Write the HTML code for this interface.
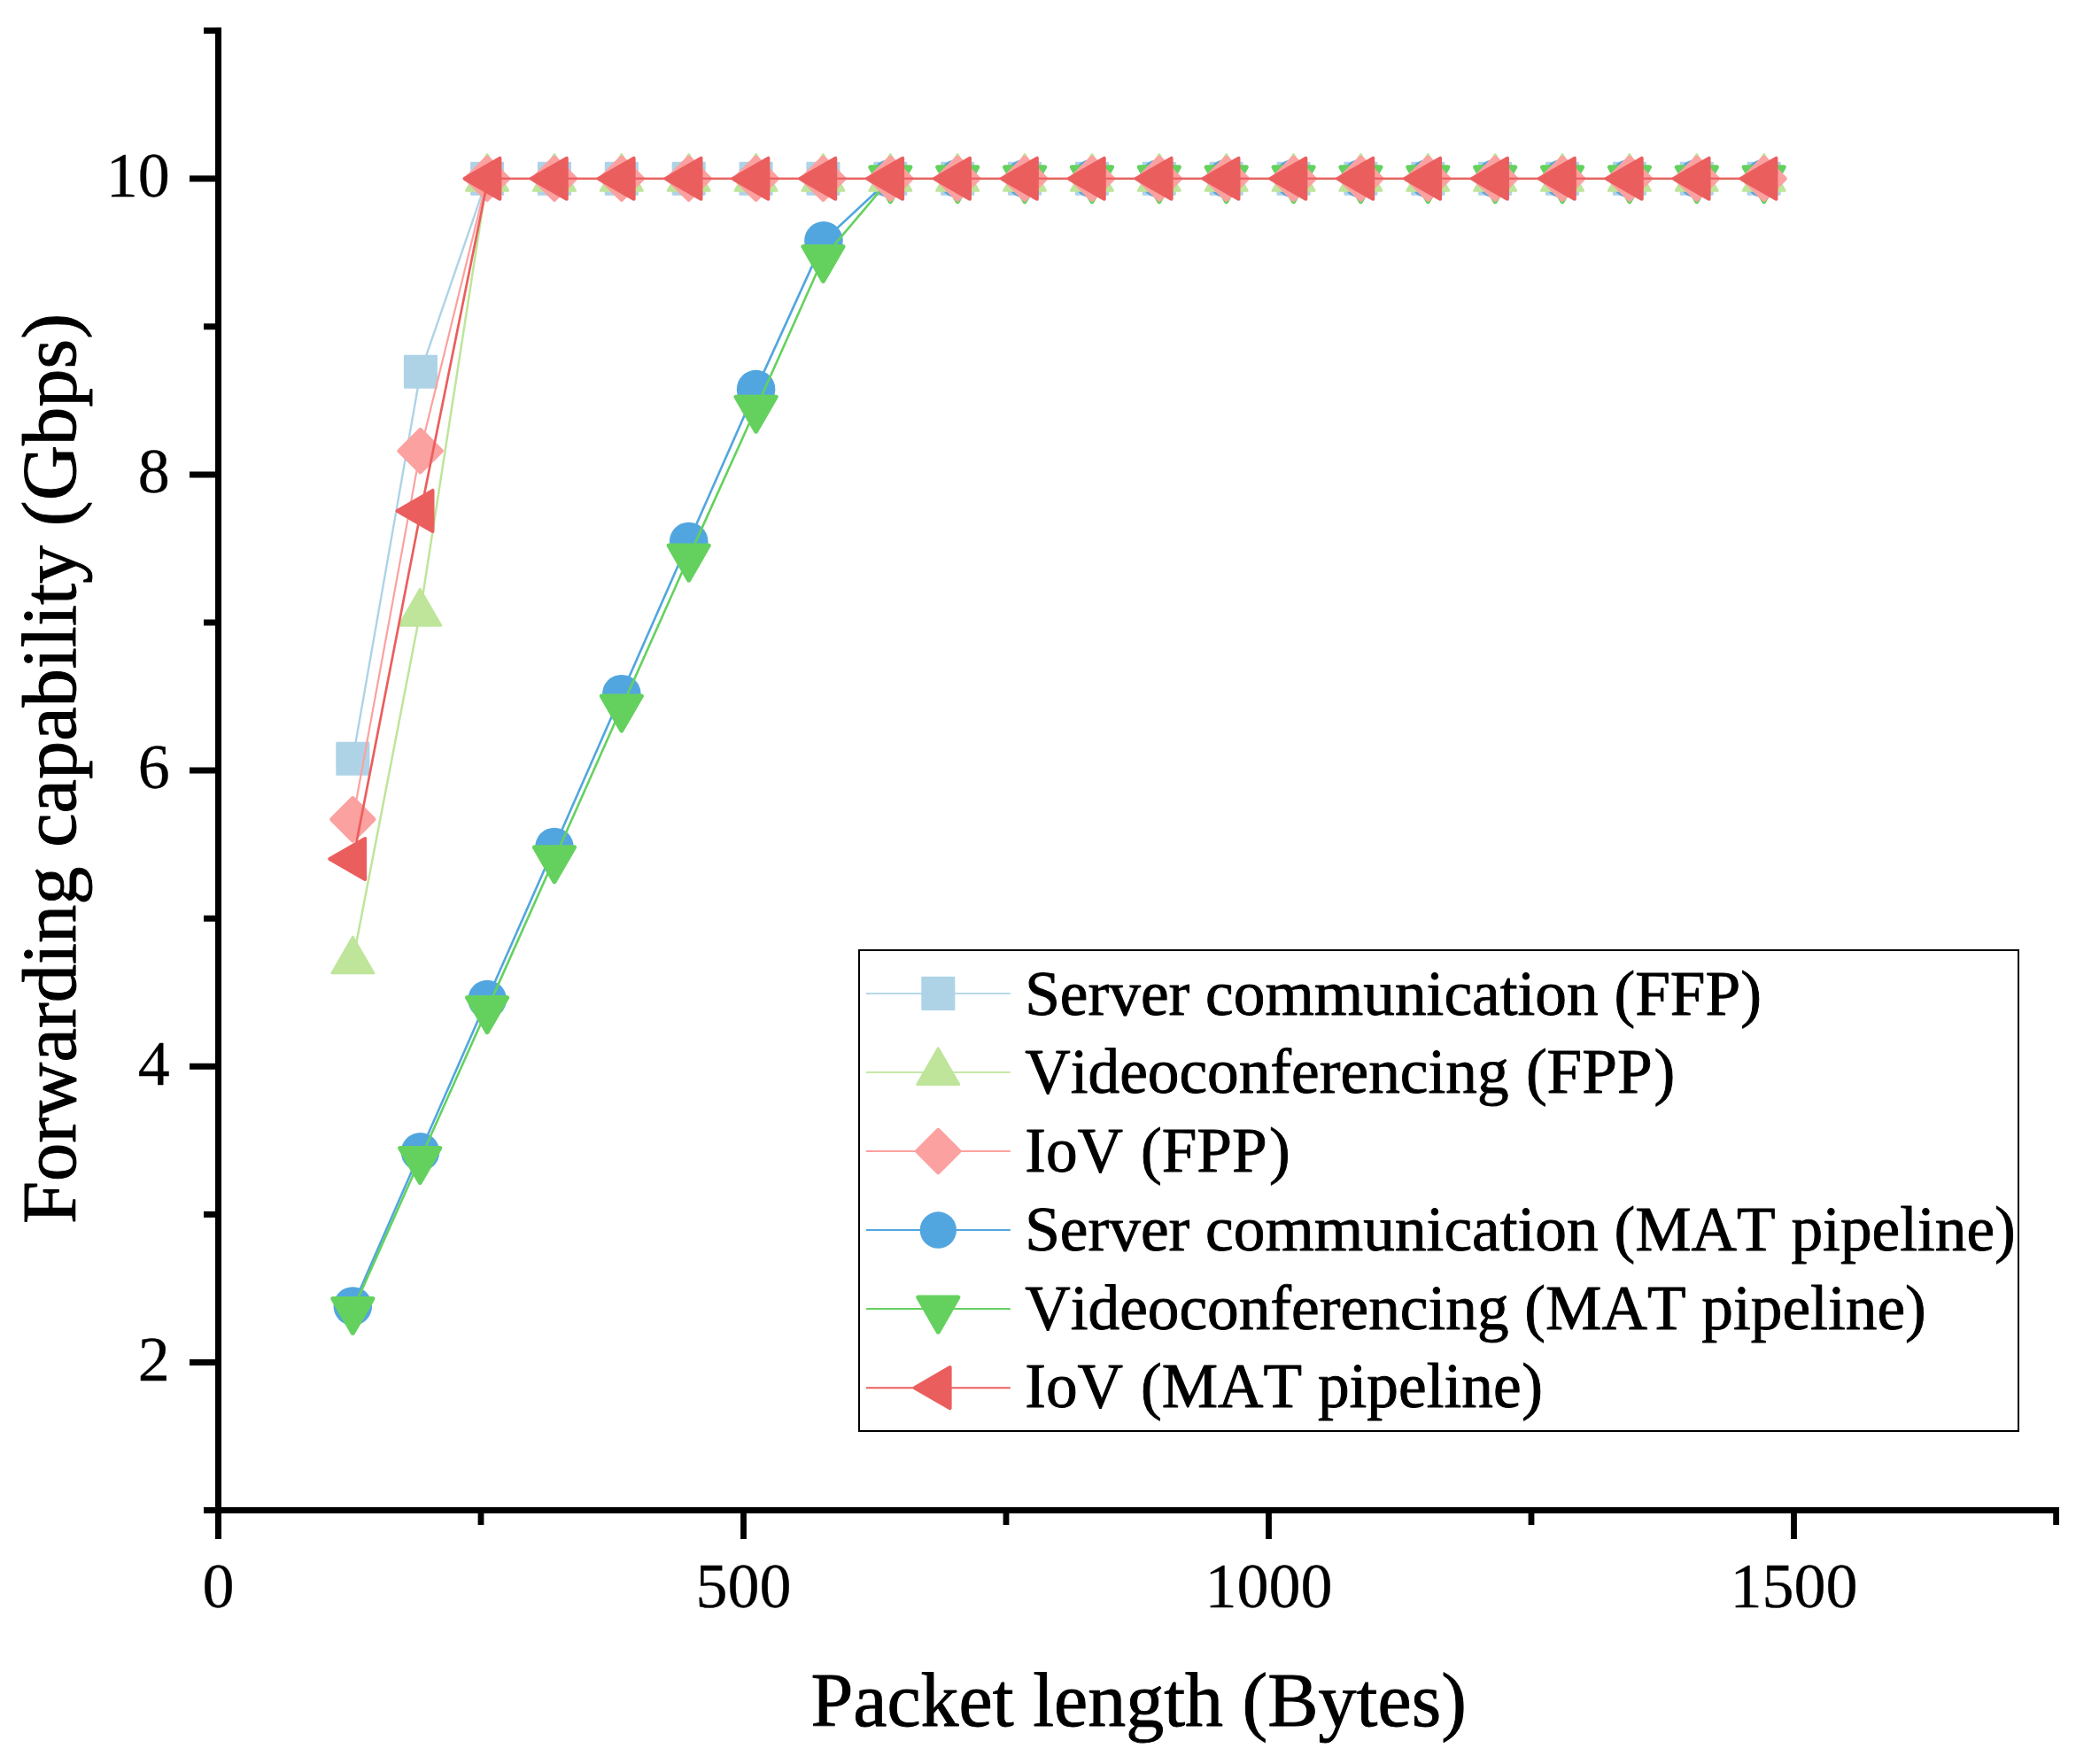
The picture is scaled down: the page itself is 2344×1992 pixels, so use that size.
<!DOCTYPE html>
<html lang="en"><head><meta charset="utf-8"><title>Forwarding capability vs packet length</title>
<style>html,body{margin:0;padding:0;background:#fff}svg{display:block}text{font-family:"Liberation Serif", serif;fill:#000;font-kerning:none;stroke:#000;stroke-width:0.9px;stroke-linejoin:round}.tick text{stroke-width:0.3px}</style></head><body>
<svg width="2344" height="1992" viewBox="0 0 2344 1992">
<rect width="2344" height="1992" fill="#fff"/>
<g><polyline points="398.34,856.73 474.92,419.77 550.09,201.70" fill="none" stroke="#AED3E7" stroke-width="2.4" stroke-linejoin="round"/>
<polyline points="550.09,201.70 625.96,201.70 701.83,201.70 777.70,201.70 853.58,201.70 929.45,201.70 1005.32,201.70 1081.19,201.70 1157.06,201.70 1232.94,201.70 1308.81,201.70 1384.68,201.70 1460.55,201.70 1536.42,201.70 1612.30,201.70 1688.17,201.70 1764.04,201.70 1839.91,201.70 1915.78,201.70 1991.66,201.70" fill="none" stroke="#AED3E7" stroke-width="1.6"/>
<rect x="380.31" y="838.70" width="36.06" height="36.06" fill="#AED3E7" stroke="#AED3E7" stroke-width="2.0" stroke-linejoin="round"/>
<rect x="456.89" y="401.74" width="36.06" height="36.06" fill="#AED3E7" stroke="#AED3E7" stroke-width="2.0" stroke-linejoin="round"/>
<rect x="532.06" y="183.67" width="36.06" height="36.06" fill="#AED3E7" stroke="#AED3E7" stroke-width="2.0" stroke-linejoin="round"/>
<rect x="607.93" y="183.67" width="36.06" height="36.06" fill="#AED3E7" stroke="#AED3E7" stroke-width="2.0" stroke-linejoin="round"/>
<rect x="683.80" y="183.67" width="36.06" height="36.06" fill="#AED3E7" stroke="#AED3E7" stroke-width="2.0" stroke-linejoin="round"/>
<rect x="759.67" y="183.67" width="36.06" height="36.06" fill="#AED3E7" stroke="#AED3E7" stroke-width="2.0" stroke-linejoin="round"/>
<rect x="835.55" y="183.67" width="36.06" height="36.06" fill="#AED3E7" stroke="#AED3E7" stroke-width="2.0" stroke-linejoin="round"/>
<rect x="911.42" y="183.67" width="36.06" height="36.06" fill="#AED3E7" stroke="#AED3E7" stroke-width="2.0" stroke-linejoin="round"/>
<rect x="987.29" y="183.67" width="36.06" height="36.06" fill="#AED3E7" stroke="#AED3E7" stroke-width="2.0" stroke-linejoin="round"/>
<rect x="1063.16" y="183.67" width="36.06" height="36.06" fill="#AED3E7" stroke="#AED3E7" stroke-width="2.0" stroke-linejoin="round"/>
<rect x="1139.03" y="183.67" width="36.06" height="36.06" fill="#AED3E7" stroke="#AED3E7" stroke-width="2.0" stroke-linejoin="round"/>
<rect x="1214.91" y="183.67" width="36.06" height="36.06" fill="#AED3E7" stroke="#AED3E7" stroke-width="2.0" stroke-linejoin="round"/>
<rect x="1290.78" y="183.67" width="36.06" height="36.06" fill="#AED3E7" stroke="#AED3E7" stroke-width="2.0" stroke-linejoin="round"/>
<rect x="1366.65" y="183.67" width="36.06" height="36.06" fill="#AED3E7" stroke="#AED3E7" stroke-width="2.0" stroke-linejoin="round"/>
<rect x="1442.52" y="183.67" width="36.06" height="36.06" fill="#AED3E7" stroke="#AED3E7" stroke-width="2.0" stroke-linejoin="round"/>
<rect x="1518.39" y="183.67" width="36.06" height="36.06" fill="#AED3E7" stroke="#AED3E7" stroke-width="2.0" stroke-linejoin="round"/>
<rect x="1594.27" y="183.67" width="36.06" height="36.06" fill="#AED3E7" stroke="#AED3E7" stroke-width="2.0" stroke-linejoin="round"/>
<rect x="1670.14" y="183.67" width="36.06" height="36.06" fill="#AED3E7" stroke="#AED3E7" stroke-width="2.0" stroke-linejoin="round"/>
<rect x="1746.01" y="183.67" width="36.06" height="36.06" fill="#AED3E7" stroke="#AED3E7" stroke-width="2.0" stroke-linejoin="round"/>
<rect x="1821.88" y="183.67" width="36.06" height="36.06" fill="#AED3E7" stroke="#AED3E7" stroke-width="2.0" stroke-linejoin="round"/>
<rect x="1897.75" y="183.67" width="36.06" height="36.06" fill="#AED3E7" stroke="#AED3E7" stroke-width="2.0" stroke-linejoin="round"/>
<rect x="1973.63" y="183.67" width="36.06" height="36.06" fill="#AED3E7" stroke="#AED3E7" stroke-width="2.0" stroke-linejoin="round"/>
</g>
<g><polyline points="398.34,1475.00 474.52,1300.80 550.09,1128.60 625.96,956.49 701.83,783.71 777.70,611.43 853.58,439.65 929.95,271.88 1005.32,201.70" fill="none" stroke="#52A6DF" stroke-width="2.6" stroke-linejoin="round"/>
<polyline points="1005.32,201.70 1081.19,201.70 1157.06,201.70 1232.94,201.70 1308.81,201.70 1384.68,201.70 1460.55,201.70 1536.42,201.70 1612.30,201.70 1688.17,201.70 1764.04,201.70 1839.91,201.70 1915.78,201.70 1991.66,201.70" fill="none" stroke="#52A6DF" stroke-width="1.6"/>
<circle cx="398.34" cy="1475.00" r="21.8" fill="#52A6DF"/>
<circle cx="474.52" cy="1300.80" r="21.8" fill="#52A6DF"/>
<circle cx="550.09" cy="1128.60" r="21.8" fill="#52A6DF"/>
<circle cx="625.96" cy="956.49" r="21.8" fill="#52A6DF"/>
<circle cx="701.83" cy="783.71" r="21.8" fill="#52A6DF"/>
<circle cx="777.70" cy="611.43" r="21.8" fill="#52A6DF"/>
<circle cx="853.58" cy="439.65" r="21.8" fill="#52A6DF"/>
<circle cx="929.95" cy="271.88" r="21.8" fill="#52A6DF"/>
<circle cx="1005.32" cy="201.70" r="21.8" fill="#52A6DF"/>
<circle cx="1081.19" cy="201.70" r="21.8" fill="#52A6DF"/>
<circle cx="1157.06" cy="201.70" r="21.8" fill="#52A6DF"/>
<circle cx="1232.94" cy="201.70" r="21.8" fill="#52A6DF"/>
<circle cx="1308.81" cy="201.70" r="21.8" fill="#52A6DF"/>
<circle cx="1384.68" cy="201.70" r="21.8" fill="#52A6DF"/>
<circle cx="1460.55" cy="201.70" r="21.8" fill="#52A6DF"/>
<circle cx="1536.42" cy="201.70" r="21.8" fill="#52A6DF"/>
<circle cx="1612.30" cy="201.70" r="21.8" fill="#52A6DF"/>
<circle cx="1688.17" cy="201.70" r="21.8" fill="#52A6DF"/>
<circle cx="1764.04" cy="201.70" r="21.8" fill="#52A6DF"/>
<circle cx="1839.91" cy="201.70" r="21.8" fill="#52A6DF"/>
<circle cx="1915.78" cy="201.70" r="21.8" fill="#52A6DF"/>
<circle cx="1991.66" cy="201.70" r="21.8" fill="#52A6DF"/>
</g>
<g><polyline points="398.34,1085.32 474.22,692.64 550.09,201.70" fill="none" stroke="#BEE59A" stroke-width="2.5" stroke-linejoin="round"/>
<polyline points="550.09,201.70 625.96,201.70 701.83,201.70 777.70,201.70 853.58,201.70 929.45,201.70 1005.32,201.70 1081.19,201.70 1157.06,201.70 1232.94,201.70 1308.81,201.70 1384.68,201.70 1460.55,201.70 1536.42,201.70 1612.30,201.70 1688.17,201.70 1764.04,201.70 1839.91,201.70 1915.78,201.70 1991.66,201.70" fill="none" stroke="#BEE59A" stroke-width="1.6"/>
<polygon points="398.34,1057.84 422.14,1099.07 374.54,1099.07" fill="#BEE59A" stroke="#BEE59A" stroke-width="2.5" stroke-linejoin="round"/>
<polygon points="474.22,665.16 498.02,706.38 450.42,706.38" fill="#BEE59A" stroke="#BEE59A" stroke-width="2.5" stroke-linejoin="round"/>
<polygon points="550.09,174.22 573.89,215.44 526.29,215.44" fill="#BEE59A" stroke="#BEE59A" stroke-width="2.5" stroke-linejoin="round"/>
<polygon points="625.96,174.22 649.76,215.44 602.16,215.44" fill="#BEE59A" stroke="#BEE59A" stroke-width="2.5" stroke-linejoin="round"/>
<polygon points="701.83,174.22 725.63,215.44 678.03,215.44" fill="#BEE59A" stroke="#BEE59A" stroke-width="2.5" stroke-linejoin="round"/>
<polygon points="777.70,174.22 801.50,215.44 753.90,215.44" fill="#BEE59A" stroke="#BEE59A" stroke-width="2.5" stroke-linejoin="round"/>
<polygon points="853.58,174.22 877.38,215.44 829.78,215.44" fill="#BEE59A" stroke="#BEE59A" stroke-width="2.5" stroke-linejoin="round"/>
<polygon points="929.45,174.22 953.25,215.44 905.65,215.44" fill="#BEE59A" stroke="#BEE59A" stroke-width="2.5" stroke-linejoin="round"/>
<polygon points="1005.32,174.22 1029.12,215.44 981.52,215.44" fill="#BEE59A" stroke="#BEE59A" stroke-width="2.5" stroke-linejoin="round"/>
<polygon points="1081.19,174.22 1104.99,215.44 1057.39,215.44" fill="#BEE59A" stroke="#BEE59A" stroke-width="2.5" stroke-linejoin="round"/>
<polygon points="1157.06,174.22 1180.86,215.44 1133.26,215.44" fill="#BEE59A" stroke="#BEE59A" stroke-width="2.5" stroke-linejoin="round"/>
<polygon points="1232.94,174.22 1256.74,215.44 1209.14,215.44" fill="#BEE59A" stroke="#BEE59A" stroke-width="2.5" stroke-linejoin="round"/>
<polygon points="1308.81,174.22 1332.61,215.44 1285.01,215.44" fill="#BEE59A" stroke="#BEE59A" stroke-width="2.5" stroke-linejoin="round"/>
<polygon points="1384.68,174.22 1408.48,215.44 1360.88,215.44" fill="#BEE59A" stroke="#BEE59A" stroke-width="2.5" stroke-linejoin="round"/>
<polygon points="1460.55,174.22 1484.35,215.44 1436.75,215.44" fill="#BEE59A" stroke="#BEE59A" stroke-width="2.5" stroke-linejoin="round"/>
<polygon points="1536.42,174.22 1560.22,215.44 1512.62,215.44" fill="#BEE59A" stroke="#BEE59A" stroke-width="2.5" stroke-linejoin="round"/>
<polygon points="1612.30,174.22 1636.10,215.44 1588.50,215.44" fill="#BEE59A" stroke="#BEE59A" stroke-width="2.5" stroke-linejoin="round"/>
<polygon points="1688.17,174.22 1711.97,215.44 1664.37,215.44" fill="#BEE59A" stroke="#BEE59A" stroke-width="2.5" stroke-linejoin="round"/>
<polygon points="1764.04,174.22 1787.84,215.44 1740.24,215.44" fill="#BEE59A" stroke="#BEE59A" stroke-width="2.5" stroke-linejoin="round"/>
<polygon points="1839.91,174.22 1863.71,215.44 1816.11,215.44" fill="#BEE59A" stroke="#BEE59A" stroke-width="2.5" stroke-linejoin="round"/>
<polygon points="1915.78,174.22 1939.58,215.44 1891.98,215.44" fill="#BEE59A" stroke="#BEE59A" stroke-width="2.5" stroke-linejoin="round"/>
<polygon points="1991.66,174.22 2015.46,215.44 1967.86,215.44" fill="#BEE59A" stroke="#BEE59A" stroke-width="2.5" stroke-linejoin="round"/>
</g>
<g><polyline points="398.34,1479.40 474.22,1309.49 550.09,1139.63 625.96,969.69 701.83,799.08 777.70,629.14 853.58,461.21 929.45,291.43 1005.32,201.70" fill="none" stroke="#64D15E" stroke-width="2.6" stroke-linejoin="round"/>
<polyline points="1005.32,201.70 1081.19,201.70 1157.06,201.70 1232.94,201.70 1308.81,201.70 1384.68,201.70 1460.55,201.70 1536.42,201.70 1612.30,201.70 1688.17,201.70 1764.04,201.70 1839.91,201.70 1915.78,201.70 1991.66,201.70" fill="none" stroke="#64D15E" stroke-width="1.6"/>
<polygon points="398.34,1505.44 420.89,1466.38 375.79,1466.38" fill="#64D15E" stroke="#64D15E" stroke-width="5.0" stroke-linejoin="round"/>
<polygon points="474.22,1335.53 496.77,1296.47 451.67,1296.47" fill="#64D15E" stroke="#64D15E" stroke-width="5.0" stroke-linejoin="round"/>
<polygon points="550.09,1165.67 572.64,1126.61 527.54,1126.61" fill="#64D15E" stroke="#64D15E" stroke-width="5.0" stroke-linejoin="round"/>
<polygon points="625.96,995.73 648.51,956.67 603.41,956.67" fill="#64D15E" stroke="#64D15E" stroke-width="5.0" stroke-linejoin="round"/>
<polygon points="701.83,825.12 724.38,786.06 679.28,786.06" fill="#64D15E" stroke="#64D15E" stroke-width="5.0" stroke-linejoin="round"/>
<polygon points="777.70,655.18 800.25,616.12 755.15,616.12" fill="#64D15E" stroke="#64D15E" stroke-width="5.0" stroke-linejoin="round"/>
<polygon points="853.58,487.24 876.13,448.19 831.03,448.19" fill="#64D15E" stroke="#64D15E" stroke-width="5.0" stroke-linejoin="round"/>
<polygon points="929.45,317.47 952.00,278.41 906.90,278.41" fill="#64D15E" stroke="#64D15E" stroke-width="5.0" stroke-linejoin="round"/>
<polygon points="1005.32,227.74 1027.87,188.68 982.77,188.68" fill="#64D15E" stroke="#64D15E" stroke-width="5.0" stroke-linejoin="round"/>
<polygon points="1081.19,227.74 1103.74,188.68 1058.64,188.68" fill="#64D15E" stroke="#64D15E" stroke-width="5.0" stroke-linejoin="round"/>
<polygon points="1157.06,227.74 1179.61,188.68 1134.51,188.68" fill="#64D15E" stroke="#64D15E" stroke-width="5.0" stroke-linejoin="round"/>
<polygon points="1232.94,227.74 1255.49,188.68 1210.39,188.68" fill="#64D15E" stroke="#64D15E" stroke-width="5.0" stroke-linejoin="round"/>
<polygon points="1308.81,227.74 1331.36,188.68 1286.26,188.68" fill="#64D15E" stroke="#64D15E" stroke-width="5.0" stroke-linejoin="round"/>
<polygon points="1384.68,227.74 1407.23,188.68 1362.13,188.68" fill="#64D15E" stroke="#64D15E" stroke-width="5.0" stroke-linejoin="round"/>
<polygon points="1460.55,227.74 1483.10,188.68 1438.00,188.68" fill="#64D15E" stroke="#64D15E" stroke-width="5.0" stroke-linejoin="round"/>
<polygon points="1536.42,227.74 1558.97,188.68 1513.87,188.68" fill="#64D15E" stroke="#64D15E" stroke-width="5.0" stroke-linejoin="round"/>
<polygon points="1612.30,227.74 1634.85,188.68 1589.75,188.68" fill="#64D15E" stroke="#64D15E" stroke-width="5.0" stroke-linejoin="round"/>
<polygon points="1688.17,227.74 1710.72,188.68 1665.62,188.68" fill="#64D15E" stroke="#64D15E" stroke-width="5.0" stroke-linejoin="round"/>
<polygon points="1764.04,227.74 1786.59,188.68 1741.49,188.68" fill="#64D15E" stroke="#64D15E" stroke-width="5.0" stroke-linejoin="round"/>
<polygon points="1839.91,227.74 1862.46,188.68 1817.36,188.68" fill="#64D15E" stroke="#64D15E" stroke-width="5.0" stroke-linejoin="round"/>
<polygon points="1915.78,227.74 1938.33,188.68 1893.23,188.68" fill="#64D15E" stroke="#64D15E" stroke-width="5.0" stroke-linejoin="round"/>
<polygon points="1991.66,227.74 2014.21,188.68 1969.11,188.68" fill="#64D15E" stroke="#64D15E" stroke-width="5.0" stroke-linejoin="round"/>
</g>
<g><polyline points="398.34,925.24 474.62,509.16 550.09,201.70" fill="none" stroke="#FBA1A0" stroke-width="2.2" stroke-linejoin="round"/>
<polyline points="550.09,201.70 625.96,201.70 701.83,201.70 777.70,201.70 853.58,201.70 929.45,201.70 1005.32,201.70 1081.19,201.70 1157.06,201.70 1232.94,201.70 1308.81,201.70 1384.68,201.70 1460.55,201.70 1536.42,201.70 1612.30,201.70 1688.17,201.70 1764.04,201.70 1839.91,201.70 1915.78,201.70 1991.66,201.70" fill="none" stroke="#FBA1A0" stroke-width="1.6"/>
<polygon points="398.34,901.59 421.99,925.24 398.34,948.89 374.69,925.24" fill="#FBA1A0" stroke="#FBA1A0" stroke-width="5.0" stroke-linejoin="round"/>
<polygon points="474.62,485.51 498.27,509.16 474.62,532.81 450.97,509.16" fill="#FBA1A0" stroke="#FBA1A0" stroke-width="5.0" stroke-linejoin="round"/>
<polygon points="550.09,178.05 573.74,201.70 550.09,225.35 526.44,201.70" fill="#FBA1A0" stroke="#FBA1A0" stroke-width="5.0" stroke-linejoin="round"/>
<polygon points="625.96,178.05 649.61,201.70 625.96,225.35 602.31,201.70" fill="#FBA1A0" stroke="#FBA1A0" stroke-width="5.0" stroke-linejoin="round"/>
<polygon points="701.83,178.05 725.48,201.70 701.83,225.35 678.18,201.70" fill="#FBA1A0" stroke="#FBA1A0" stroke-width="5.0" stroke-linejoin="round"/>
<polygon points="777.70,178.05 801.35,201.70 777.70,225.35 754.05,201.70" fill="#FBA1A0" stroke="#FBA1A0" stroke-width="5.0" stroke-linejoin="round"/>
<polygon points="853.58,178.05 877.23,201.70 853.58,225.35 829.93,201.70" fill="#FBA1A0" stroke="#FBA1A0" stroke-width="5.0" stroke-linejoin="round"/>
<polygon points="929.45,178.05 953.10,201.70 929.45,225.35 905.80,201.70" fill="#FBA1A0" stroke="#FBA1A0" stroke-width="5.0" stroke-linejoin="round"/>
<polygon points="1005.32,178.05 1028.97,201.70 1005.32,225.35 981.67,201.70" fill="#FBA1A0" stroke="#FBA1A0" stroke-width="5.0" stroke-linejoin="round"/>
<polygon points="1081.19,178.05 1104.84,201.70 1081.19,225.35 1057.54,201.70" fill="#FBA1A0" stroke="#FBA1A0" stroke-width="5.0" stroke-linejoin="round"/>
<polygon points="1157.06,178.05 1180.71,201.70 1157.06,225.35 1133.41,201.70" fill="#FBA1A0" stroke="#FBA1A0" stroke-width="5.0" stroke-linejoin="round"/>
<polygon points="1232.94,178.05 1256.59,201.70 1232.94,225.35 1209.29,201.70" fill="#FBA1A0" stroke="#FBA1A0" stroke-width="5.0" stroke-linejoin="round"/>
<polygon points="1308.81,178.05 1332.46,201.70 1308.81,225.35 1285.16,201.70" fill="#FBA1A0" stroke="#FBA1A0" stroke-width="5.0" stroke-linejoin="round"/>
<polygon points="1384.68,178.05 1408.33,201.70 1384.68,225.35 1361.03,201.70" fill="#FBA1A0" stroke="#FBA1A0" stroke-width="5.0" stroke-linejoin="round"/>
<polygon points="1460.55,178.05 1484.20,201.70 1460.55,225.35 1436.90,201.70" fill="#FBA1A0" stroke="#FBA1A0" stroke-width="5.0" stroke-linejoin="round"/>
<polygon points="1536.42,178.05 1560.07,201.70 1536.42,225.35 1512.77,201.70" fill="#FBA1A0" stroke="#FBA1A0" stroke-width="5.0" stroke-linejoin="round"/>
<polygon points="1612.30,178.05 1635.95,201.70 1612.30,225.35 1588.65,201.70" fill="#FBA1A0" stroke="#FBA1A0" stroke-width="5.0" stroke-linejoin="round"/>
<polygon points="1688.17,178.05 1711.82,201.70 1688.17,225.35 1664.52,201.70" fill="#FBA1A0" stroke="#FBA1A0" stroke-width="5.0" stroke-linejoin="round"/>
<polygon points="1764.04,178.05 1787.69,201.70 1764.04,225.35 1740.39,201.70" fill="#FBA1A0" stroke="#FBA1A0" stroke-width="5.0" stroke-linejoin="round"/>
<polygon points="1839.91,178.05 1863.56,201.70 1839.91,225.35 1816.26,201.70" fill="#FBA1A0" stroke="#FBA1A0" stroke-width="5.0" stroke-linejoin="round"/>
<polygon points="1915.78,178.05 1939.43,201.70 1915.78,225.35 1892.13,201.70" fill="#FBA1A0" stroke="#FBA1A0" stroke-width="5.0" stroke-linejoin="round"/>
<polygon points="1991.66,178.05 2015.31,201.70 1991.66,225.35 1968.01,201.70" fill="#FBA1A0" stroke="#FBA1A0" stroke-width="5.0" stroke-linejoin="round"/>
</g>
<g><polyline points="398.84,970.03 475.22,577.01 551.09,201.70" fill="none" stroke="#EB5E5E" stroke-width="2.7" stroke-linejoin="round"/>
<polyline points="551.09,201.70 626.46,201.70 702.33,201.70 778.20,201.70 854.08,201.70 929.95,201.70 1005.82,201.70 1081.69,201.70 1157.56,201.70 1233.44,201.70 1309.31,201.70 1385.18,201.70 1461.05,201.70 1536.92,201.70 1612.80,201.70 1688.67,201.70 1764.54,201.70 1840.41,201.70 1916.28,201.70 1992.16,201.70" fill="none" stroke="#EB5E5E" stroke-width="2.2"/>
<polygon points="372.23,970.03 412.15,946.98 412.15,993.08" fill="#EB5E5E" stroke="#EB5E5E" stroke-width="4.0" stroke-linejoin="round"/>
<polygon points="448.60,577.01 488.52,553.96 488.52,600.06" fill="#EB5E5E" stroke="#EB5E5E" stroke-width="4.0" stroke-linejoin="round"/>
<polygon points="524.47,201.70 564.40,178.65 564.40,224.75" fill="#EB5E5E" stroke="#EB5E5E" stroke-width="4.0" stroke-linejoin="round"/>
<polygon points="599.84,201.70 639.77,178.65 639.77,224.75" fill="#EB5E5E" stroke="#EB5E5E" stroke-width="4.0" stroke-linejoin="round"/>
<polygon points="675.72,201.70 715.64,178.65 715.64,224.75" fill="#EB5E5E" stroke="#EB5E5E" stroke-width="4.0" stroke-linejoin="round"/>
<polygon points="751.59,201.70 791.51,178.65 791.51,224.75" fill="#EB5E5E" stroke="#EB5E5E" stroke-width="4.0" stroke-linejoin="round"/>
<polygon points="827.46,201.70 867.38,178.65 867.38,224.75" fill="#EB5E5E" stroke="#EB5E5E" stroke-width="4.0" stroke-linejoin="round"/>
<polygon points="903.33,201.70 943.26,178.65 943.26,224.75" fill="#EB5E5E" stroke="#EB5E5E" stroke-width="4.0" stroke-linejoin="round"/>
<polygon points="979.20,201.70 1019.13,178.65 1019.13,224.75" fill="#EB5E5E" stroke="#EB5E5E" stroke-width="4.0" stroke-linejoin="round"/>
<polygon points="1055.08,201.70 1095.00,178.65 1095.00,224.75" fill="#EB5E5E" stroke="#EB5E5E" stroke-width="4.0" stroke-linejoin="round"/>
<polygon points="1130.95,201.70 1170.87,178.65 1170.87,224.75" fill="#EB5E5E" stroke="#EB5E5E" stroke-width="4.0" stroke-linejoin="round"/>
<polygon points="1206.82,201.70 1246.74,178.65 1246.74,224.75" fill="#EB5E5E" stroke="#EB5E5E" stroke-width="4.0" stroke-linejoin="round"/>
<polygon points="1282.69,201.70 1322.62,178.65 1322.62,224.75" fill="#EB5E5E" stroke="#EB5E5E" stroke-width="4.0" stroke-linejoin="round"/>
<polygon points="1358.56,201.70 1398.49,178.65 1398.49,224.75" fill="#EB5E5E" stroke="#EB5E5E" stroke-width="4.0" stroke-linejoin="round"/>
<polygon points="1434.44,201.70 1474.36,178.65 1474.36,224.75" fill="#EB5E5E" stroke="#EB5E5E" stroke-width="4.0" stroke-linejoin="round"/>
<polygon points="1510.31,201.70 1550.23,178.65 1550.23,224.75" fill="#EB5E5E" stroke="#EB5E5E" stroke-width="4.0" stroke-linejoin="round"/>
<polygon points="1586.18,201.70 1626.10,178.65 1626.10,224.75" fill="#EB5E5E" stroke="#EB5E5E" stroke-width="4.0" stroke-linejoin="round"/>
<polygon points="1662.05,201.70 1701.98,178.65 1701.98,224.75" fill="#EB5E5E" stroke="#EB5E5E" stroke-width="4.0" stroke-linejoin="round"/>
<polygon points="1737.92,201.70 1777.85,178.65 1777.85,224.75" fill="#EB5E5E" stroke="#EB5E5E" stroke-width="4.0" stroke-linejoin="round"/>
<polygon points="1813.80,201.70 1853.72,178.65 1853.72,224.75" fill="#EB5E5E" stroke="#EB5E5E" stroke-width="4.0" stroke-linejoin="round"/>
<polygon points="1889.67,201.70 1929.59,178.65 1929.59,224.75" fill="#EB5E5E" stroke="#EB5E5E" stroke-width="4.0" stroke-linejoin="round"/>
<polygon points="1965.54,201.70 2005.46,178.65 2005.46,224.75" fill="#EB5E5E" stroke="#EB5E5E" stroke-width="4.0" stroke-linejoin="round"/>
</g>
<g stroke="#000" fill="none" stroke-linecap="butt">
<line x1="246.5" y1="31" x2="246.5" y2="1738" stroke-width="7.0"/>
<line x1="230" y1="1705.60" x2="2325" y2="1705.60" stroke-width="7.0"/>
<line x1="214" y1="1538.50" x2="246.5" y2="1538.50" stroke-width="7.0"/>
<line x1="230" y1="1371.40" x2="246.5" y2="1371.40" stroke-width="7.0"/>
<line x1="214" y1="1204.30" x2="246.5" y2="1204.30" stroke-width="7.0"/>
<line x1="230" y1="1037.20" x2="246.5" y2="1037.20" stroke-width="7.0"/>
<line x1="214" y1="870.10" x2="246.5" y2="870.10" stroke-width="7.0"/>
<line x1="230" y1="703.00" x2="246.5" y2="703.00" stroke-width="7.0"/>
<line x1="214" y1="535.90" x2="246.5" y2="535.90" stroke-width="7.0"/>
<line x1="230" y1="368.80" x2="246.5" y2="368.80" stroke-width="7.0"/>
<line x1="214" y1="201.70" x2="246.5" y2="201.70" stroke-width="7.0"/>
<line x1="230" y1="34.60" x2="246.5" y2="34.60" stroke-width="7.0"/>
<line x1="543.00" y1="1705.60" x2="543.00" y2="1722" stroke-width="6.8"/>
<line x1="839.50" y1="1705.60" x2="839.50" y2="1738" stroke-width="6.8"/>
<line x1="1136.00" y1="1705.60" x2="1136.00" y2="1722" stroke-width="6.8"/>
<line x1="1432.50" y1="1705.60" x2="1432.50" y2="1738" stroke-width="6.8"/>
<line x1="1729.00" y1="1705.60" x2="1729.00" y2="1722" stroke-width="6.8"/>
<line x1="2025.50" y1="1705.60" x2="2025.50" y2="1738" stroke-width="6.8"/>
<line x1="2321.60" y1="1705.60" x2="2321.60" y2="1722" stroke-width="6.8"/>
</g>
<g class="tick" font-size="72">
<text x="191.8" y="1558.80" text-anchor="end">2</text>
<text x="191.8" y="1224.60" text-anchor="end">4</text>
<text x="191.8" y="890.40" text-anchor="end">6</text>
<text x="191.8" y="556.20" text-anchor="end">8</text>
<text x="191.8" y="222.00" text-anchor="end">10</text>
<text x="246.50" y="1815.3" text-anchor="middle">0</text>
<text x="839.50" y="1815.3" text-anchor="middle">500</text>
<text x="1432.50" y="1815.3" text-anchor="middle">1000</text>
<text x="2025.50" y="1815.3" text-anchor="middle">1500</text>
</g>
<text x="1285.6" y="1948.8" font-size="86" text-anchor="middle">Packet length (Bytes)</text>
<text transform="translate(84.6 868) rotate(-90)" font-size="86.5" text-anchor="middle">Forwarding capability (Gbps)</text>
<g>
<rect x="970" y="1073" width="1309" height="543" fill="#fff" stroke="#000" stroke-width="2"/>
<line x1="978" y1="1121.90" x2="1140.8" y2="1121.90" stroke="#AED3E7" stroke-width="1.8"/>
<rect x="1041.27" y="1103.87" width="36.06" height="36.06" fill="#AED3E7" stroke="#AED3E7" stroke-width="2.0" stroke-linejoin="round"/>
<text x="1157.2" y="1145.50" font-size="71.3">Server communication (FFP)</text>
<line x1="978" y1="1210.95" x2="1140.8" y2="1210.95" stroke="#BEE59A" stroke-width="1.8"/>
<polygon points="1059.30,1183.47 1083.10,1224.69 1035.50,1224.69" fill="#BEE59A" stroke="#BEE59A" stroke-width="2.5" stroke-linejoin="round"/>
<text x="1157.2" y="1234.27" font-size="71.3">Videoconferencing <tspan dx="1.5">(FPP</tspan><tspan dx="1.8">)</tspan></text>
<line x1="978" y1="1300.00" x2="1140.8" y2="1300.00" stroke="#FBA1A0" stroke-width="1.8"/>
<polygon points="1059.30,1276.35 1082.95,1300.00 1059.30,1323.65 1035.65,1300.00" fill="#FBA1A0" stroke="#FBA1A0" stroke-width="5.0" stroke-linejoin="round"/>
<text x="1157.2" y="1323.04" font-size="71.3">IoV <tspan dx="2">(FPP</tspan><tspan dx="2.4">)</tspan></text>
<line x1="978" y1="1389.05" x2="1140.8" y2="1389.05" stroke="#52A6DF" stroke-width="2.0"/>
<circle cx="1059.30" cy="1389.05" r="20.7" fill="#52A6DF"/>
<text x="1157.2" y="1411.81" font-size="71.3">Server communication (MAT pipeline)</text>
<line x1="978" y1="1478.10" x2="1140.8" y2="1478.10" stroke="#64D15E" stroke-width="2.0"/>
<polygon points="1059.30,1504.14 1081.85,1465.08 1036.75,1465.08" fill="#64D15E" stroke="#64D15E" stroke-width="5.0" stroke-linejoin="round"/>
<text x="1157.2" y="1500.58" font-size="71.3">Videoconferencing (MAT pipeline)</text>
<line x1="978" y1="1567.15" x2="1140.8" y2="1567.15" stroke="#EB5E5E" stroke-width="2.0"/>
<polygon points="1032.68,1567.15 1072.61,1544.10 1072.61,1590.20" fill="#EB5E5E" stroke="#EB5E5E" stroke-width="4.0" stroke-linejoin="round"/>
<text x="1157.2" y="1589.35" font-size="71.3">IoV <tspan dx="2">(MAT pipeline</tspan><tspan dx="0.6">)</tspan></text>
</g>
</svg></body></html>
